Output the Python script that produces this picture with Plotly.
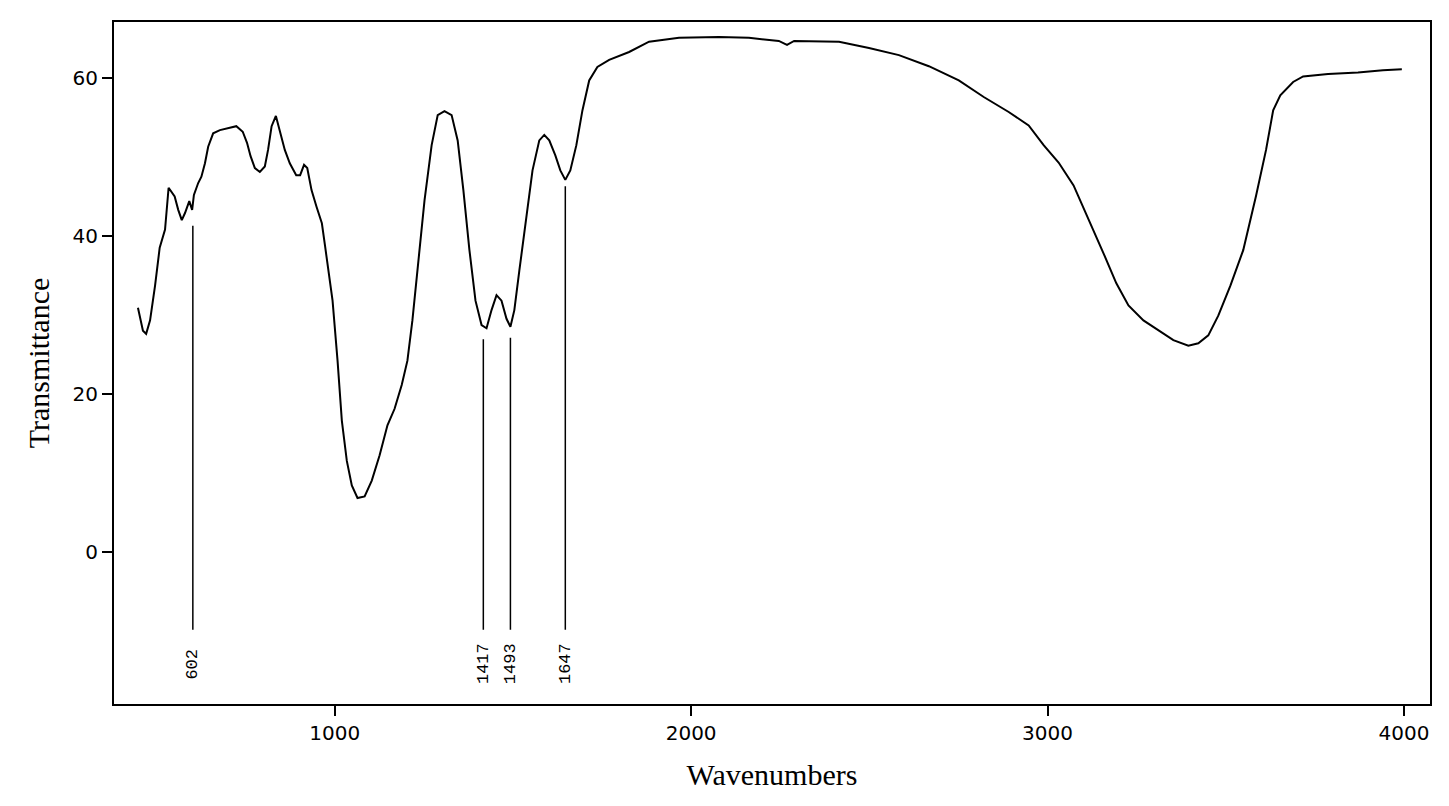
import plotly.graph_objects as go

wavenumber = [448, 462, 471, 482, 496, 509, 524, 534, 551, 561, 571, 580, 592, 600, 605, 617, 626, 636, 645, 659, 678, 724, 742, 754, 764, 776, 790, 804, 813, 823, 835, 847, 860, 874, 892, 903, 914, 923, 935, 949, 964, 973, 985, 994, 1008, 1020, 1034, 1048, 1064, 1084, 1104, 1126, 1148, 1168, 1188, 1204, 1218, 1232, 1252, 1272, 1289, 1308, 1328, 1345, 1361, 1378, 1395, 1412, 1426, 1440, 1454, 1468, 1482, 1493, 1504, 1518, 1538, 1555, 1574, 1588, 1602, 1619, 1633, 1647, 1661, 1678, 1695, 1714, 1737, 1770, 1826, 1882, 1966, 2078, 2162, 2246, 2269, 2289, 2415, 2499, 2583, 2667, 2751, 2821, 2891, 2947, 2989, 3031, 3073, 3115, 3157, 3193, 3227, 3269, 3311, 3353, 3395, 3423, 3451, 3479, 3513, 3549, 3585, 3613, 3633, 3653, 3689, 3717, 3787, 3871, 3941, 3994]
transmittance = [30.9, 28.0, 27.6, 29.3, 33.7, 38.5, 40.8, 46.1, 45.0, 43.3, 42.0, 42.9, 44.4, 43.3, 45.2, 46.7, 47.5, 49.2, 51.3, 53.0, 53.4, 53.9, 53.2, 51.8, 50.1, 48.6, 48.1, 48.8, 50.9, 53.9, 55.2, 53.0, 50.9, 49.2, 47.7, 47.7, 49.0, 48.6, 45.8, 43.7, 41.6, 38.7, 34.5, 31.8, 24.2, 16.6, 11.5, 8.4, 6.8, 7.0, 9.0, 12.2, 16.0, 18.1, 21.1, 24.2, 29.3, 35.6, 44.5, 51.5, 55.3, 55.8, 55.3, 52.1, 45.8, 38.2, 31.8, 28.7, 28.3, 30.6, 32.5, 31.8, 29.5, 28.5, 30.6, 35.6, 42.6, 48.3, 52.1, 52.8, 52.1, 50.2, 48.3, 47.1, 48.3, 51.5, 55.9, 59.7, 61.4, 62.3, 63.3, 64.6, 65.1, 65.2, 65.1, 64.7, 64.2, 64.7, 64.6, 63.8, 62.9, 61.5, 59.7, 57.6, 55.7, 54.0, 51.5, 49.3, 46.4, 42.2, 37.8, 34.0, 31.2, 29.3, 28.0, 26.8, 26.1, 26.4, 27.4, 29.9, 33.7, 38.2, 45.1, 50.9, 55.9, 57.8, 59.5, 60.2, 60.5, 60.7, 61.0, 61.1]

peak_positions = [602, 1417, 1493, 1647]
peak_labels = ["602", "1417", "1493", "1647"]
peak_line_top = [41.3, 26.9, 27.1, 46.3]
peak_line_bottom = -9.9
peak_label_y = -14.2

x_ticks = [1000, 2000, 3000, 4000]
y_ticks = [0, 20, 40, 60]

fig = go.Figure()
fig.add_trace(go.Scatter(x=wavenumber, y=transmittance, mode="lines",
                         line=dict(color="black", width=2), showlegend=False))
for p, top in zip(peak_positions, peak_line_top):
    fig.add_trace(go.Scatter(x=[p, p], y=[top, peak_line_bottom], mode="lines",
                             line=dict(color="black", width=1.5), showlegend=False))
for p, lab in zip(peak_positions, peak_labels):
    fig.add_annotation(x=p, y=peak_label_y, text=lab, textangle=-90, showarrow=False,
                       font=dict(family="Liberation Mono", size=17, color="black"))

fig.update_layout(
    width=1449, height=806,
    margin=dict(l=106, r=27, t=14, b=110),
    paper_bgcolor="white", plot_bgcolor="white",
    xaxis=dict(range=[380.8, 4073], tickvals=x_ticks, ticks="outside", ticklen=10,
               tickwidth=1.5, tickcolor="black", showgrid=False, zeroline=False,
               showline=True, linecolor="black", linewidth=2, mirror=True,
               automargin=False,
               tickfont=dict(family="DejaVu Sans", size=20, color="black"),
               title=dict(text="Wavenumbers", standoff=20,
                          font=dict(family="Liberation Serif", size=30, color="black"))),
    yaxis=dict(range=[-19.3, 67.1], tickvals=y_ticks, ticks="outside", ticklen=10,
               tickwidth=1.5, tickcolor="black", showgrid=False, zeroline=False,
               showline=True, linecolor="black", linewidth=2, mirror=True,
               automargin=False,
               tickfont=dict(family="DejaVu Sans", size=20, color="black"),
               title=dict(text="Transmittance", standoff=14,
                          font=dict(family="Liberation Serif", size=30, color="black"))),
)
fig.write_html("out.html")
